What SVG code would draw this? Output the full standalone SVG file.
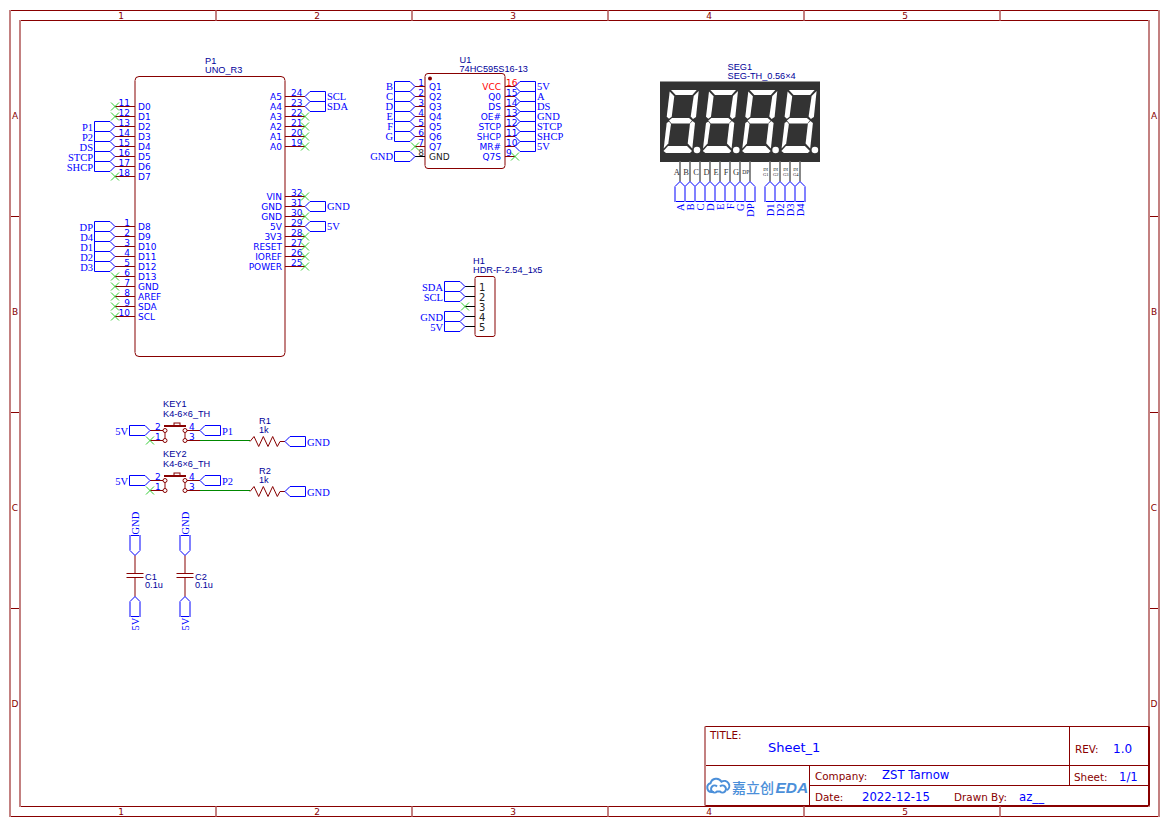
<svg xmlns="http://www.w3.org/2000/svg" width="1169" height="827" viewBox="0 0 1169 827">
<style>
text{font-family:"DejaVu Sans","Liberation Sans",sans-serif;font-size:9px;fill:#0000ff}
.l{fill:none;stroke:#880000;stroke-width:1}
.lv{fill:none;stroke:#c38080;stroke-width:2}
.w{fill:none;stroke:#008800;stroke-width:1}
.k{fill:none;stroke:#000;stroke-width:1}
.f{fill:none;stroke:#0000ff;stroke-width:1}
.fv{fill:none;stroke:#8080ff;stroke-width:2}
.x{fill:none;stroke:#33cc33;stroke-width:1}
.n{font-family:"Liberation Serif","DejaVu Serif",serif;font-size:10.5px}
.e{text-anchor:end}
.r{fill:#880000}
.v{fill:#000099;font-family:"Liberation Sans",Arial,sans-serif;font-size:9.2px}
.fr{fill:#880000;font-size:9px;text-anchor:middle}
.t{fill:#880000;font-size:10.4px}
.b{font-size:11.7px}
.s{font-family:"Liberation Serif","DejaVu Serif",serif;font-size:8.5px;fill:#333;text-anchor:middle}
.d{font-family:"Liberation Serif","DejaVu Serif",serif;font-size:4.5px;fill:#111;text-anchor:middle}
.seg{fill:#fff}
.gp{stroke:#888;stroke-width:2;fill:none}
</style>
<defs>
<path id="fl" class="f" d="M-20.500 -5H-5L0 0L-5 5H-20.500Z"/>
<path id="fr" class="f" d="M20.500 -5H5L0 0L5 5H20.500Z"/>
<g id="fu"><path class="f" d="M-5 -5L0 0L5 -5M-5 -20H5"/><path class="fv" d="M-5 -5V-20.500M5 -5V-20.500"/></g>
<g id="fd"><path class="f" d="M-5 5L0 0L5 5M-5 20H5"/><path class="fv" d="M-5 5V20.500M5 5V20.500"/></g>
<path id="xm" class="x" d="M-4 -4L4 4M-4 4L4 -4"/>
<g id="dg">
<polygon class="seg" points="671,90.500 696.700,90.500 692.300,95.500 675.700,95.500"/>
<polygon class="seg" points="698.700,91.500 693.700,96.500 690.700,117 693,119.500 696,117.500"/>
<polygon class="seg" points="669.700,92 674.300,96.700 671.700,117.300 669,119.300 666.700,117.300"/>
<polygon class="seg" points="672,118.500 689,118.500 692,121 689.500,124 671.500,124 669,121"/>
<polygon class="seg" points="666.700,123.500 669,122 671,124.500 668.300,144 663.700,149"/>
<polygon class="seg" points="695,123.500 692.500,121.500 690,124 687.700,144 692.300,149"/>
<polygon class="seg" points="668,146.500 687,146.500 692,151.500 690,153.500 666,153.500 663.500,151.500"/>
<circle class="seg" cx="697" cy="150.500" r="3.300"/>
</g>
</defs>
<g transform="translate(0,-0.5)">
<g id="frame">
<path class="l" d="M10 11H1159M20 21H1149M20 807H1149M10 817H1159M10 217H20M10 413H20M10 609H20M1149 217H1159M1149 413H1159M1149 609H1159"/>
<path class="lv" d="M10 10.500V817.500M20 20.500V807.500M1149 20.500V807.500M1159 10.500V817.500M216 11V21M412 11V21M608 11V21M804 11V21M1000 11V21M216 807V817M412 807V817M608 807V817M804 807V817M1000 807V817"/>
<text class="fr" x="121" y="19">1</text><text class="fr" x="317" y="19">2</text><text class="fr" x="513" y="19">3</text><text class="fr" x="709" y="19">4</text><text class="fr" x="905" y="19">5</text>
<text class="fr" x="121" y="815">1</text><text class="fr" x="317" y="815">2</text><text class="fr" x="513" y="815">3</text><text class="fr" x="709" y="815">4</text><text class="fr" x="905" y="815">5</text>
<text class="fr" x="15" y="119">A</text><text class="fr" x="15" y="315">B</text><text class="fr" x="15" y="511">C</text><text class="fr" x="15" y="707">D</text>
<text class="fr" x="1154" y="119">A</text><text class="fr" x="1154" y="315">B</text><text class="fr" x="1154" y="511">C</text><text class="fr" x="1154" y="707">D</text>
</g>
<g id="title-block">
<path class="l" d="M705 727H1149M705 766H1149M809.500 766V806M1069.500 727V786M809.500 786H1149M705 806H1149"/>
<path class="lv" d="M705 727V806"/>
<path class="l" d="M1149 727V806" style="stroke-width:2"/>
<text class="t" x="710" y="739">TITLE:</text>
<text x="768" y="752" style="font-size:13px">Sheet_1</text>
<text class="t" x="1075" y="753">REV:</text>
<text x="1113" y="753" style="font-size:12px">1.0</text>
<text class="t" x="815" y="780">Company:</text>
<text class="b" x="882" y="779">ZST Tarnow</text>
<text class="t" x="1074" y="781">Sheet:</text>
<text class="b" x="1119" y="781">1/1</text>
<text class="t" x="815" y="801">Date:</text>
<text class="b" x="862" y="801">2022-12-15</text>
<text class="t" x="954" y="801">Drawn By:</text>
<text class="b" x="1019" y="801">az__</text>
<g id="logo">
<path d="M714 792.500h-2.500a4.500 4.500 0 0 1 -1 -8.800a6 6 0 0 1 11 -1.500a5 5 0 0 1 5.500 8.500M720 787a3.500 3.500 0 1 1 0 5h-3a3.500 3.500 0 1 1 0 -5" fill="none" stroke="#4b8fd9" stroke-width="2"/>
<text x="732" y="793" style="font-family:'Noto Sans CJK SC',sans-serif;font-size:14px;fill:#4b8fd9;font-weight:500">嘉立创</text>
<text x="775.500" y="793" style="font-family:'Liberation Sans',sans-serif;font-size:15.500px;fill:#4b8fd9;font-style:italic;font-weight:bold">EDA</text>
</g>
</g>
<g id="connectors">
<path class="w" d="M200 441H250M200 491H250"/>
<path class="lv" d="M135 556V574M135 578V597M185 556V574M185 578V597"/>
</g>
<g id="P1">
<text x="205" y="64.500" class="v">P1</text><text x="205" y="73.500" class="v">UNO_R3</text>
<path class="l" d="M135 81a4 4 0 0 1 4 -4H281a4 4 0 0 1 4 4M285 353a4 4 0 0 1 -4 4H139a4 4 0 0 1 -4 -4"/>
<path class="lv" d="M135 81V353M285 81V353"/>
<path class="l" d="M115 107H135M115 117H135M115 127H135M115 137H135M115 147H135M115 157H135M115 167H135M115 177H135M115 227H135M115 237H135M115 247H135M115 257H135M115 267H135M115 277H135M115 287H135M115 297H135M115 307H135M115 317H135M285 97H305M285 107H305M285 117H305M285 127H305M285 137H305M285 147H305M285 197H305M285 207H305M285 217H305M285 227H305M285 237H305M285 247H305M285 257H305M285 267H305"/>
<text class="e" x="130" y="106">11</text><text x="138" y="110">D0</text>
<text class="e" x="130" y="116">12</text><text x="138" y="120">D1</text>
<text class="e" x="130" y="126">13</text><text x="138" y="130">D2</text>
<text class="e" x="130" y="136">14</text><text x="138" y="140">D3</text>
<text class="e" x="130" y="146">15</text><text x="138" y="150">D4</text>
<text class="e" x="130" y="156">16</text><text x="138" y="160">D5</text>
<text class="e" x="130" y="166">17</text><text x="138" y="170">D6</text>
<text class="e" x="130" y="176">18</text><text x="138" y="180">D7</text>
<text class="e" x="130" y="226">1</text><text x="138" y="230">D8</text>
<text class="e" x="130" y="236">2</text><text x="138" y="240">D9</text>
<text class="e" x="130" y="246">3</text><text x="138" y="250">D10</text>
<text class="e" x="130" y="256">4</text><text x="138" y="260">D11</text>
<text class="e" x="130" y="266">5</text><text x="138" y="270">D12</text>
<text class="e" x="130" y="276">6</text><text x="138" y="280">D13</text>
<text class="e" x="130" y="286">7</text><text x="138" y="290">GND</text>
<text class="e" x="130" y="296">8</text><text x="138" y="300">AREF</text>
<text class="e" x="130" y="306">9</text><text x="138" y="310">SDA</text>
<text class="e" x="130" y="316">10</text><text x="138" y="320">SCL</text>
<text x="291" y="96">24</text><text class="e" x="282" y="100">A5</text>
<text x="291" y="106">23</text><text class="e" x="282" y="110">A4</text>
<text x="291" y="116">22</text><text class="e" x="282" y="120">A3</text>
<text x="291" y="126">21</text><text class="e" x="282" y="130">A2</text>
<text x="291" y="136">20</text><text class="e" x="282" y="140">A1</text>
<text x="291" y="146">19</text><text class="e" x="282" y="150">A0</text>
<text x="291" y="196">32</text><text class="e" x="282" y="200">VIN</text>
<text x="291" y="206">31</text><text class="e" x="282" y="210">GND</text>
<text x="291" y="216">30</text><text class="e" x="282" y="220">GND</text>
<text x="291" y="226">29</text><text class="e" x="282" y="230">5V</text>
<text x="291" y="236">28</text><text class="e" x="282" y="240">3V3</text>
<text x="291" y="246">27</text><text class="e" x="282" y="250">RESET</text>
<text x="291" y="256">26</text><text class="e" x="282" y="260">IOREF</text>
<text x="291" y="266">25</text><text class="e" x="282" y="270">POWER</text>
<use href="#xm" x="115" y="107"/><use href="#xm" x="115" y="117"/><use href="#xm" x="115" y="177"/>
<use href="#xm" x="115" y="277"/><use href="#xm" x="115" y="287"/><use href="#xm" x="115" y="297"/><use href="#xm" x="115" y="307"/><use href="#xm" x="115" y="317"/>
<use href="#xm" x="305" y="117"/><use href="#xm" x="305" y="127"/><use href="#xm" x="305" y="137"/><use href="#xm" x="305" y="147"/>
<use href="#xm" x="305" y="197"/><use href="#xm" x="305" y="217"/><use href="#xm" x="305" y="237"/><use href="#xm" x="305" y="247"/><use href="#xm" x="305" y="257"/><use href="#xm" x="305" y="267"/>
<use href="#fl" x="115" y="127"/><use href="#fl" x="115" y="137"/><use href="#fl" x="115" y="147"/><use href="#fl" x="115" y="157"/><use href="#fl" x="115" y="167"/>
<use href="#fl" x="115" y="227"/><use href="#fl" x="115" y="237"/><use href="#fl" x="115" y="247"/><use href="#fl" x="115" y="257"/><use href="#fl" x="115" y="267"/>
<use href="#fr" x="305" y="97"/><use href="#fr" x="305" y="107"/><use href="#fr" x="305" y="207"/><use href="#fr" x="305" y="227"/>
<text class="n e" x="93" y="131">P1</text><text class="n e" x="93" y="141">P2</text><text class="n e" x="93" y="151">DS</text><text class="n e" x="93" y="161">STCP</text><text class="n e" x="93" y="171">SHCP</text>
<text class="n e" x="93" y="231">DP</text><text class="n e" x="93" y="241">D4</text><text class="n e" x="93" y="251">D1</text><text class="n e" x="93" y="261">D2</text><text class="n e" x="93" y="271">D3</text>
<text class="n" x="327" y="100.500">SCL</text><text class="n" x="327" y="110.500">SDA</text><text class="n" x="327" y="210.500">GND</text><text class="n" x="327" y="230.500">5V</text>
</g>
<g id="U1">
<text x="459.500" y="63.500" class="v">U1</text><text x="459.500" y="72.500" class="v">74HC595S16-13</text>
<path class="l" d="M425 77a3 3 0 0 1 3 -3H502a3 3 0 0 1 3 3M505 166a3 3 0 0 1 -3 3H428a3 3 0 0 1 -3 -3"/>
<path class="lv" d="M425 77V166M505 77V166"/>
<circle class="r" cx="430" cy="79" r="2"/>
<path class="l" d="M415 87H425M415 97H425M415 107H425M415 117H425M415 127H425M415 137H425M415 147H425M505 87H515M505 97H515M505 107H515M505 117H515M505 127H515M505 137H515M505 147H515M505 157H515"/>
<path class="k" d="M415 157H425"/>
<text class="e" x="424" y="86">1</text><text x="429" y="90.500">Q1</text>
<text class="e" x="424" y="96">2</text><text x="429" y="100.500">Q2</text>
<text class="e" x="424" y="106">3</text><text x="429" y="110.500">Q3</text>
<text class="e" x="424" y="116">4</text><text x="429" y="120.500">Q4</text>
<text class="e" x="424" y="126">5</text><text x="429" y="130.500">Q5</text>
<text class="e" x="424" y="136">6</text><text x="429" y="140.500">Q6</text>
<text class="e" x="424" y="146">7</text><text x="429" y="150.500">Q7</text>
<text class="e" x="424" y="156" style="fill:#333">8</text><text x="429" y="160.500" style="fill:#222">GND</text>
<text x="506" y="86" style="fill:#ff0000">16</text><text class="e" x="501" y="90.500" style="fill:#ff0000">VCC</text>
<text x="506" y="96">15</text><text class="e" x="501" y="100.500">Q0</text>
<text x="506" y="106">14</text><text class="e" x="501" y="110.500">DS</text>
<text x="506" y="116">13</text><text class="e" x="501" y="120.500">OE#</text>
<text x="506" y="126">12</text><text class="e" x="501" y="130.500">STCP</text>
<text x="506" y="136">11</text><text class="e" x="501" y="140.500">SHCP</text>
<text x="506" y="146">10</text><text class="e" x="501" y="150.500">MR#</text>
<text x="506" y="156">9</text><text class="e" x="501" y="160.500">Q7S</text>
<use href="#xm" x="415" y="147"/><use href="#xm" x="515" y="157"/>
<use href="#fl" x="415" y="87"/><use href="#fl" x="415" y="97"/><use href="#fl" x="415" y="107"/><use href="#fl" x="415" y="117"/><use href="#fl" x="415" y="127"/><use href="#fl" x="415" y="137"/><use href="#fl" x="415" y="157"/>
<use href="#fr" x="515" y="87"/><use href="#fr" x="515" y="97"/><use href="#fr" x="515" y="107"/><use href="#fr" x="515" y="117"/><use href="#fr" x="515" y="127"/><use href="#fr" x="515" y="137"/><use href="#fr" x="515" y="147"/>
<text class="n e" x="393" y="90.500">B</text><text class="n e" x="393" y="100.500">C</text><text class="n e" x="393" y="110.500">D</text><text class="n e" x="393" y="120.500">E</text><text class="n e" x="393" y="130.500">F</text><text class="n e" x="393" y="140.500">G</text><text class="n e" x="393" y="160.500">GND</text>
<text class="n" x="537" y="90.500">5V</text><text class="n" x="537" y="100.500">A</text><text class="n" x="537" y="110.500">DS</text><text class="n" x="537" y="120.500">GND</text><text class="n" x="537" y="130.500">STCP</text><text class="n" x="537" y="140.500">SHCP</text><text class="n" x="537" y="150.500">5V</text>
</g>
<g id="SEG1">
<text x="727.500" y="70.500" class="v">SEG1</text><text x="727.500" y="79.500" class="v">SEG-TH_0.56×4</text>
<rect x="660" y="82" width="160" height="80.500" fill="#333"/>
<use href="#dg"/><use href="#dg" x="39.300"/><use href="#dg" x="78.600"/><use href="#dg" x="117.900"/>
<path class="gp" d="M680 162V182M690 162V182M700 162V182M710 162V182M720 162V182M730 162V182M740 162V182M750 162V182M770 162V182M780 162V182M790 162V182M800 162V182"/>
<text class="s" x="676.700" y="175">A</text><text class="s" x="686" y="175">B</text><text class="s" x="696" y="175">C</text><text class="s" x="706.500" y="175">D</text><text class="s" x="716" y="175">E</text><text class="s" x="726" y="175">F</text><text class="s" x="736" y="175">G</text>
<text class="d" x="745.800" y="174.500" style="font-size:5.500px">DP</text>
<text class="d" x="765.700" y="171">DI</text><text class="d" x="765.700" y="176">G1</text>
<text class="d" x="775.700" y="171">DI</text><text class="d" x="775.700" y="176">G2</text>
<text class="d" x="785.700" y="171">DI</text><text class="d" x="785.700" y="176">G3</text>
<text class="d" x="795.700" y="171">DI</text><text class="d" x="795.700" y="176">G4</text>
<use href="#fd" x="680" y="182"/><use href="#fd" x="690" y="182"/><use href="#fd" x="700" y="182"/><use href="#fd" x="710" y="182"/><use href="#fd" x="720" y="182"/><use href="#fd" x="730" y="182"/><use href="#fd" x="740" y="182"/><use href="#fd" x="750" y="182"/><use href="#fd" x="770" y="182"/><use href="#fd" x="780" y="182"/><use href="#fd" x="790" y="182"/><use href="#fd" x="800" y="182"/>
<text class="n e" transform="translate(683.500,204) rotate(-90)">A</text>
<text class="n e" transform="translate(693.500,204) rotate(-90)">B</text>
<text class="n e" transform="translate(703.500,204) rotate(-90)">C</text>
<text class="n e" transform="translate(713.500,204) rotate(-90)">D</text>
<text class="n e" transform="translate(723.500,204) rotate(-90)">E</text>
<text class="n e" transform="translate(733.500,204) rotate(-90)">F</text>
<text class="n e" transform="translate(743.500,204) rotate(-90)">G</text>
<text class="n e" transform="translate(753.500,204) rotate(-90)">DP</text>
<text class="n e" transform="translate(773.500,204) rotate(-90)">D1</text>
<text class="n e" transform="translate(783.500,204) rotate(-90)">D2</text>
<text class="n e" transform="translate(793.500,204) rotate(-90)">D3</text>
<text class="n e" transform="translate(803.500,204) rotate(-90)">D4</text>
</g>
<g id="H1">
<text x="473" y="264.500" class="v">H1</text><text x="473" y="273.500" class="v">HDR-F-2.54_1x5</text>
<path class="l" d="M475 279a2 2 0 0 1 2 -2H493a2 2 0 0 1 2 2M495 335a2 2 0 0 1 -2 2H477a2 2 0 0 1 -2 -2"/>
<path class="lv" d="M475 279V335M495 279V335"/>
<path class="k" d="M465 287H475M465 297H475M465 317H475M465 327H475M465 307H475"/>
<text x="479" y="291" style="fill:#222;font-size:10px">1</text><text x="479" y="301" style="fill:#222;font-size:10px">2</text><text x="479" y="311" style="fill:#222;font-size:10px">3</text><text x="479" y="321" style="fill:#222;font-size:10px">4</text><text x="479" y="331" style="fill:#222;font-size:10px">5</text>
<use href="#xm" x="465" y="307"/>
<use href="#fl" x="465" y="287"/><use href="#fl" x="465" y="297"/><use href="#fl" x="465" y="317"/><use href="#fl" x="465" y="327"/>
<text class="n e" x="443" y="291">SDA</text><text class="n e" x="443" y="301">SCL</text><text class="n e" x="443" y="321">GND</text><text class="n e" x="443" y="331">5V</text>
</g>
<g id="KEY1">
<text x="163" y="407.500" class="v">KEY1</text><text x="163" y="417.500" class="v">K4-6×6_TH</text>
<path class="l" d="M150 431H163M150 441H163M187 431H200M187 441H200"/>
<path class="lv" d="M165 433V439M185 433V439"/>
<circle class="l" cx="165" cy="431" r="2"/><circle class="l" cx="165" cy="441" r="2"/><circle class="l" cx="185" cy="431" r="2"/><circle class="l" cx="185" cy="441" r="2"/>
<path class="l" d="M164 426.500H186" style="stroke-width:2"/><rect class="l" x="174" y="423.500" width="6" height="2.500"/>
<text x="155" y="430.500">2</text><text x="155" y="440.500">1</text><text x="189" y="430.500">4</text><text x="189" y="440.500">3</text>
<use href="#xm" x="150" y="441"/>
<use href="#fl" x="150" y="431"/><use href="#fr" x="200" y="431"/>
<text class="n e" x="128" y="435">5V</text><text class="n" x="222" y="435">P1</text>
</g>
<g id="R1">
<text x="259" y="424.500" class="v">R1</text><text x="259" y="433.500" class="v">1k</text>
<polyline class="l" points="250,442 254,437 258.700,447 263.300,437 268,447 272.700,437 277.300,447 280,442 285,442"/>
<use href="#fr" x="285" y="442"/><text class="n" x="307" y="446">GND</text>
</g>
<g id="KEY2">
<text x="163" y="457.500" class="v">KEY2</text><text x="163" y="467.500" class="v">K4-6×6_TH</text>
<path class="l" d="M150 481H163M150 491H163M187 481H200M187 491H200"/>
<path class="lv" d="M165 483V489M185 483V489"/>
<circle class="l" cx="165" cy="481" r="2"/><circle class="l" cx="165" cy="491" r="2"/><circle class="l" cx="185" cy="481" r="2"/><circle class="l" cx="185" cy="491" r="2"/>
<path class="l" d="M164 476.500H186" style="stroke-width:2"/><rect class="l" x="174" y="473.500" width="6" height="2.500"/>
<text x="155" y="480.500">2</text><text x="155" y="490.500">1</text><text x="189" y="480.500">4</text><text x="189" y="490.500">3</text>
<use href="#xm" x="150" y="491"/>
<use href="#fl" x="150" y="481"/><use href="#fr" x="200" y="481"/>
<text class="n e" x="128" y="485">5V</text><text class="n" x="222" y="485">P2</text>
</g>
<g id="R2">
<text x="259" y="474.500" class="v">R2</text><text x="259" y="483.500" class="v">1k</text>
<polyline class="l" points="250,492 254,487 258.700,497 263.300,487 268,497 272.700,487 277.300,497 280,492 285,492"/>
<use href="#fr" x="285" y="492"/><text class="n" x="307" y="496">GND</text>
</g>
<g id="C1">
<path class="l" d="M126.500 574H143.500M126.500 578H143.500"/>
<text x="145" y="580" class="v">C1</text><text x="145" y="588.500" class="v">0.1u</text>
<use href="#fu" x="135" y="556"/><use href="#fd" x="135" y="597"/>
<text class="n" transform="translate(139,535) rotate(-90)">GND</text>
<text class="n" transform="translate(139,631) rotate(-90)">5V</text>
</g>
<g id="C2">
<path class="l" d="M176.500 574H193.500M176.500 578H193.500"/>
<text x="195" y="580" class="v">C2</text><text x="195" y="588.500" class="v">0.1u</text>
<use href="#fu" x="185" y="556"/><use href="#fd" x="185" y="597"/>
<text class="n" transform="translate(189,535) rotate(-90)">GND</text>
<text class="n" transform="translate(189,631) rotate(-90)">5V</text>
</g>
</g>
</svg>
